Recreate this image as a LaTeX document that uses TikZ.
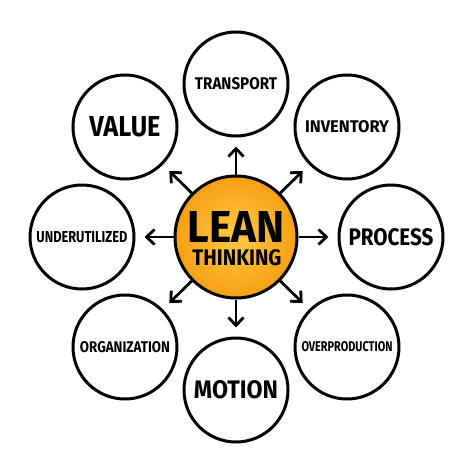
\documentclass[tikz,border=0pt]{standalone}
\usepackage{fontspec}
\setmainfont{Fira Sans}
\usetikzlibrary{arrows.meta}
\definecolor{orin}{RGB}{255,202,66}
\definecolor{orout}{RGB}{246,160,20}
\newcommand{\fitt}[3]{\resizebox{#1pt}{#2pt}{\bfseries #3}}
\begin{document}
\begin{tikzpicture}[x=1pt,y=-1pt,
  outer/.style={circle,draw=black,line width=3pt,minimum size=104pt,inner sep=0pt,fill=white},
  hub/.style={circle,draw=black,line width=3pt,minimum size=122pt,inner sep=0pt,shading=radial,inner color=orin,outer color=orout},
  txt/.style={inner sep=0pt,anchor=base},
  arr/.style={line width=2.8pt,-{Straight Barb[length=8pt,width=15pt]},shorten >=9pt}]
\useasboundingbox[fill=white] (0,0) rectangle (474,474);
\node[hub] (c) at (236,237) {};
\node[txt] (lean) at (236,242) {\fitt{97}{31}{LEAN}};
\node[txt] (thk) at (237,265) {\fitt{89}{16}{THINKING}};
\node[outer] (t) at (236,84) {\fitt{82}{12}{TRANSPORT}};
\node[outer] (inv) at (347,127) {\fitt{84}{12}{INVENTORY}};
\node[outer] (p) at (391,237) {\fitt{85}{17}{PROCESS}};
\node[outer] (ov) at (347,347) {\fitt{91}{10}{OVERPRODUCTION}};
\node[outer] (m) at (236,390) {\fitt{84}{18}{MOTION}};
\node[outer] (o) at (125,347) {\fitt{90}{11}{ORGANIZATION}};
\node[outer] (u) at (82,237) {\fitt{91}{11}{UNDERUTILIZED}};
\node[outer] (v) at (125,127) {\fitt{71}{20}{VALUE}};
\foreach \n in {t,inv,p,ov,m,o,u,v}{\draw[arr] (c) -- (\n);}
\end{tikzpicture}
\end{document}
